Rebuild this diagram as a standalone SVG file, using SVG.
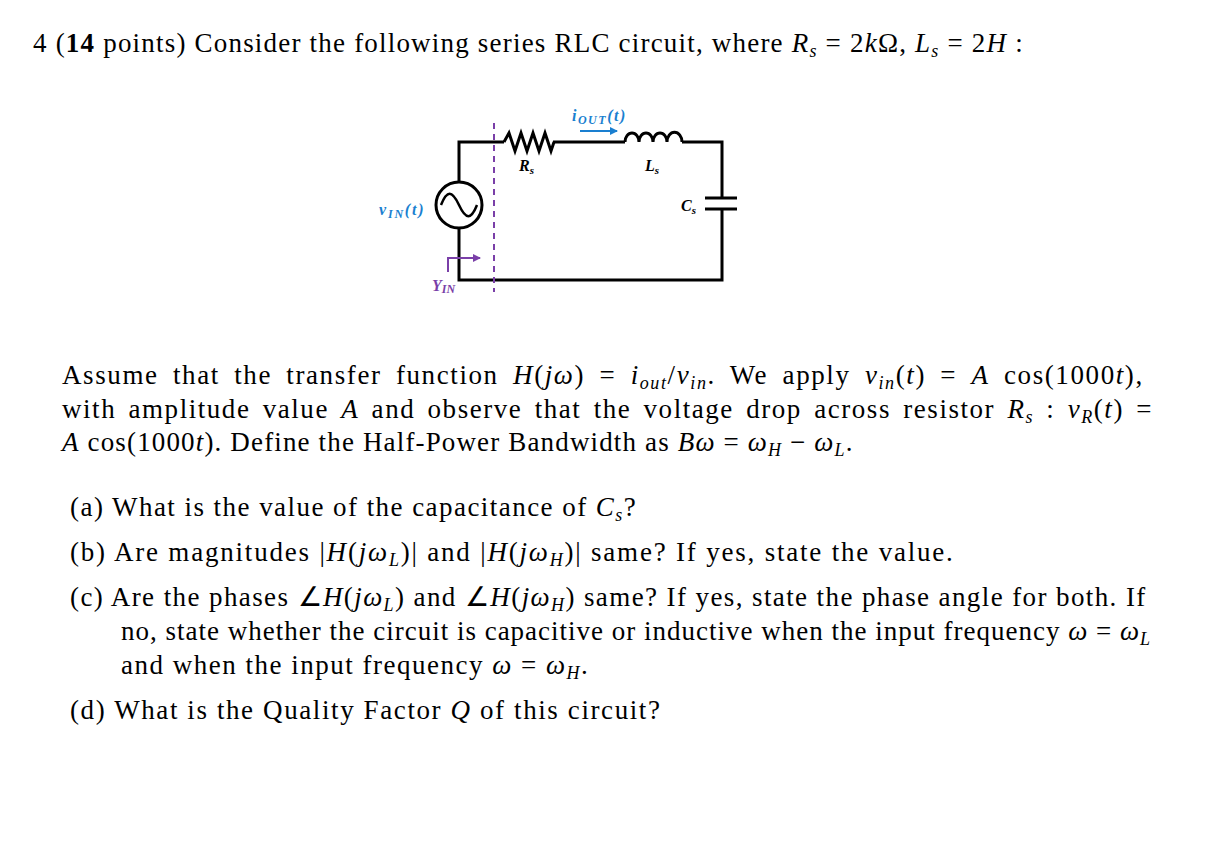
<svg xmlns="http://www.w3.org/2000/svg" width="1219" height="854" viewBox="0 0 1219 854">
<style>
.t{font-family:"Liberation Serif",serif;font-size:27px;fill:#000}
.i{font-style:italic}
.s{font-size:18px}
.w{fill:none;stroke:#000;stroke-width:3}
.lb{font-family:"Liberation Serif",serif;font-weight:bold;font-style:italic;font-size:16px}
</style>
<defs>
<marker id="ab" markerWidth="8" markerHeight="8" refX="7" refY="4" orient="auto" markerUnits="userSpaceOnUse"><path d="M0,0 L8,4 L0,8z" fill="#1a7fd0"/></marker>
<marker id="ap" markerWidth="8" markerHeight="8" refX="7" refY="4" orient="auto" markerUnits="userSpaceOnUse"><path d="M0,0 L8,4 L0,8z" fill="#7a3fa8"/></marker>
</defs>
<rect width="1219" height="854" fill="#fff"/>
<text class="t" x="33" y="52" letter-spacing="1.2">4 (<tspan font-weight="bold">14</tspan> points) Consider the following series RLC circuit, where <tspan class="i">R</tspan><tspan class="s i" dy="5">s</tspan><tspan dy="-5"> = 2</tspan><tspan class="i">k</tspan>Ω, <tspan class="i">L</tspan><tspan class="s i" dy="5">s</tspan><tspan dy="-5"> = 2</tspan><tspan class="i">H</tspan> :</text>
<g id="circuit">
<g id="wires"><path class="w" d="M459,182 V142 H504 M553,142 H625 M682,142 H722 V198 M722,209 V280 H459 V228"/></g>
<g id="Rs"><path class="w" d="M504,142 l5,-9 l6,18 l6,-18 l6,18 l6,-18 l6,18 l6,-18 l6,18 l3,-9" stroke-width="2.5"/><text class="lb" x="519" y="171">R<tspan font-size="11" dy="3">s</tspan></text></g>
<g id="Ls"><path class="w" stroke-width="2.5" d="M625,142 a7,9 0 0 1 14,0 a7,9 0 0 1 14,0 a7,9 0 0 1 14,0 a7,9 0 0 1 15,0"/><text class="lb" x="645" y="171">L<tspan font-size="11" dy="3">s</tspan></text></g>
<g id="Cs"><path class="w" d="M705,198 H737 M705,209 H737"/><text class="lb" x="681" y="211">C<tspan font-size="11" dy="3">s</tspan></text></g>
<g id="Vin"><circle class="w" cx="459" cy="205" r="23"/><path fill="none" stroke="#000" stroke-width="2.5" d="M441,205 C447,190 452,190 459,205 S471,220 477,205"/><text class="lb" x="379" y="215" fill="#1a7fd0" letter-spacing="1.8">v<tspan font-size="12" dy="3">IN</tspan><tspan dy="-3">(t)</tspan></text></g>
<g id="connectors"><path d="M494,123 V292" stroke="#7a3fa8" stroke-width="2" stroke-dasharray="6,5" fill="none"/><path d="M580,131 H617" stroke="#1a7fd0" stroke-width="2" marker-end="url(#ab)"/><path d="M448,272 V258 H480" stroke="#7a3fa8" stroke-width="2" fill="none" marker-end="url(#ap)"/></g>
<text class="lb" x="572" y="121" fill="#1a7fd0" letter-spacing="1.5">i<tspan font-size="12" dy="3">OUT</tspan><tspan dy="-3">(t)</tspan></text>
<text class="lb" x="432" y="291" fill="#7a3fa8">Y<tspan font-size="12" dy="2">IN</tspan></text>
</g>
<text class="t" x="62" y="384" word-spacing="6" letter-spacing="1.6">Assume that the transfer function <tspan class="i">H</tspan>(<tspan class="i">jω</tspan>) = <tspan class="i">i</tspan><tspan class="s i" dy="5">out</tspan><tspan dy="-5">/</tspan><tspan class="i">v</tspan><tspan class="s i" dy="5">in</tspan><tspan dy="-5">.  We apply </tspan><tspan class="i">v</tspan><tspan class="s i" dy="5">in</tspan><tspan dy="-5">(</tspan><tspan class="i">t</tspan>) = <tspan class="i">A</tspan> cos(1000<tspan class="i">t</tspan>),</text>
<text class="t" x="62" y="418" word-spacing="4" letter-spacing="1.55">with amplitude value <tspan class="i">A</tspan> and observe that the voltage drop across resistor <tspan class="i">R</tspan><tspan class="s i" dy="5">s</tspan><tspan dy="-5"> : </tspan><tspan class="i">v</tspan><tspan class="s i" dy="5">R</tspan><tspan dy="-5">(</tspan><tspan class="i">t</tspan>) =</text>
<text class="t" x="62" y="451" letter-spacing="1.15"><tspan class="i">A</tspan> cos(1000<tspan class="i">t</tspan>). Define the Half-Power Bandwidth as <tspan class="i">Bω</tspan> = <tspan class="i">ω</tspan><tspan class="s i" dy="5">H</tspan><tspan dy="-5"> − </tspan><tspan class="i">ω</tspan><tspan class="s i" dy="5">L</tspan><tspan dy="-5">.</tspan></text>
<text class="t" x="70" y="516" letter-spacing="1.45">(a)  What is the value of the capacitance of <tspan class="i">C</tspan><tspan class="s i" dy="5">s</tspan><tspan dy="-5">?</tspan></text>
<text class="t" x="70" y="561" letter-spacing="1.8">(b)  Are magnitudes |<tspan class="i">H</tspan>(<tspan class="i">jω</tspan><tspan class="s i" dy="5">L</tspan><tspan dy="-5">)| and |</tspan><tspan class="i">H</tspan>(<tspan class="i">jω</tspan><tspan class="s i" dy="5">H</tspan><tspan dy="-5">)| same? If yes, state the value.</tspan></text>
<text class="t" x="70" y="606" letter-spacing="1.4">(c)  Are the phases ∠<tspan class="i">H</tspan>(<tspan class="i">jω</tspan><tspan class="s i" dy="5">L</tspan><tspan dy="-5">) and ∠</tspan><tspan class="i">H</tspan>(<tspan class="i">jω</tspan><tspan class="s i" dy="5">H</tspan><tspan dy="-5">) same? If yes, state the phase angle for both. If</tspan></text>
<text class="t" x="121" y="640" letter-spacing="1.0">no, state whether the circuit is capacitive or inductive when the input frequency <tspan class="i">ω</tspan> = <tspan class="i">ω</tspan><tspan class="s i" dy="5">L</tspan></text>
<text class="t" x="121" y="674" letter-spacing="1.5">and when the input frequency <tspan class="i">ω</tspan> = <tspan class="i">ω</tspan><tspan class="s i" dy="5">H</tspan><tspan dy="-5">.</tspan></text>
<text class="t" x="70" y="719" letter-spacing="1.6">(d)  What is the Quality Factor <tspan class="i">Q</tspan> of this circuit?</text>
</svg>
